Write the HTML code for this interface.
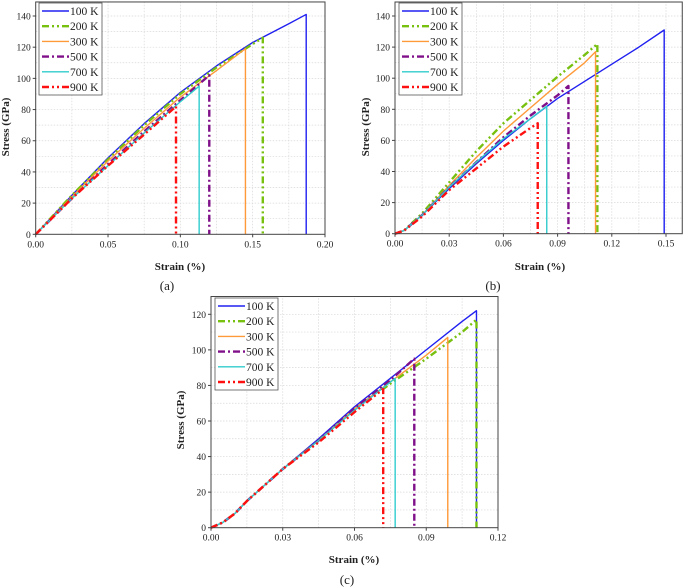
<!DOCTYPE html>
<html><head><meta charset="utf-8">
<style>
html,body{margin:0;padding:0;background:#fff;}
svg{display:block;font-family:"Liberation Serif",serif;}
</style></head>
<body>
<svg id="fig" width="685" height="588" viewBox="0 0 685 588"></svg>
<script>
const seriesNames=["100 K","200 K","300 K","500 K","700 K","900 K"];
// Panel (a)
const aStrain=[
 [0,0.025,0.05,0.075,0.1,0.125,0.15,0.175,0.187],
 [0,0.025,0.05,0.075,0.1,0.125,0.15,0.157],
 [0,0.025,0.05,0.075,0.1,0.125,0.145],
 [0,0.025,0.05,0.075,0.1,0.12],
 [0,0.025,0.05,0.075,0.1,0.113],
 [0,0.025,0.05,0.075,0.097]];
const aStress=[
 [0,25,49,71,91,108,123,135,141],
 [0,25,48,70,90,107,122,126],
 [0,24,47,68,88,105,119],
 [0,23,45,66,86,102],
 [0,23,44,65,85,95],
 [0,23,44,64,82]];
// Panel (b)
const bStrain=[
 [0,0.005,0.015,0.03,0.045,0.06,0.075,0.09,0.105,0.12,0.135,0.149],
 [0,0.005,0.015,0.03,0.045,0.06,0.075,0.09,0.105,0.112],
 [0,0.005,0.015,0.03,0.045,0.06,0.075,0.09,0.105,0.111],
 [0,0.005,0.015,0.03,0.045,0.06,0.075,0.09,0.096],
 [0,0.005,0.015,0.03,0.045,0.06,0.075,0.084],
 [0,0.005,0.015,0.03,0.045,0.06,0.075,0.079]];
const bStress=[
 [0,2,12,29,45,60,74,87,98,109,120,131],
 [0,2,13,33,53,71,86,101,115,122],
 [0,2,12,31,49,66,81,96,110,117],
 [0,2,12,30,46,62,76,89,95],
 [0,2,12,30,46,61,74,82],
 [0,2,11,28,42,56,68,71]];
// Panel (c)
const cStrain=[
 [0,0.005,0.01,0.015,0.03,0.045,0.06,0.075,0.09,0.105,0.111],
 [0,0.005,0.01,0.015,0.03,0.045,0.06,0.075,0.09,0.105,0.111],
 [0,0.005,0.01,0.015,0.03,0.045,0.06,0.075,0.09,0.099],
 [0,0.005,0.01,0.015,0.03,0.045,0.06,0.075,0.085],
 [0,0.005,0.01,0.015,0.03,0.045,0.06,0.077],
 [0,0.005,0.01,0.015,0.03,0.045,0.06,0.072]];
const cStress=[
 [0,3,8,15,33,50,68,84,100,116,122],
 [0,3,8,15,33,49,66,81,95,110,117],
 [0,3,8,15,33,49,67,82,97,107],
 [0,3,8,15,33,49,67,83,95],
 [0,3,8,15,33,49,66,84],
 [0,3,8,15,33,48,65,78]];
const aXTicks=["0.00","0.05","0.10","0.15","0.20"];
const bXTicks=["0.00","0.03","0.06","0.09","0.12","0.15"];
const cXTicks=["0.00","0.03","0.06","0.09","0.12"];
const aYTicks=[0,20,40,60,80,100,120,140];
const cYTicks=[0,20,40,60,80,100,120];

const colors=["#2020f0","#77c010","#ff9a3a","#80108a","#30cccc","#ff1010"];
const widths=[1.4,2.4,1.4,2.4,1.4,2.4];
const dashes=["","7,3,2,3,2,3","","7,3,2,3","","7,3,2,3,2,3"];
const NS="http://www.w3.org/2000/svg";
const svg=document.getElementById('fig');
function mk(tag,attrs,parent){const e=document.createElementNS(NS,tag);for(const k in attrs)e.setAttribute(k,attrs[k]);(parent||svg).appendChild(e);return e;}

function panel(cfg){
 const g=mk('g',{});
 
 
 const X=v=>cfg.x0+(v-cfg.xmin)/(cfg.xmax-cfg.xmin)*(cfg.x1-cfg.x0);
 const Y=v=>cfg.y0-(v/cfg.ymax)*(cfg.y0-cfg.y1);
 const xr=cfg.xr, yr=cfg.yr;
 const step=cfg.xstep/2;
 for(let v=step;X(v)<X(xr)-1;v+=step){const l=mk('line',{x1:X(v),x2:X(v),y1:cfg.y0,y2:Y(yr),stroke:'#d8d8d8','stroke-width':0.7,'stroke-dasharray':'1.5,1.5'},g);}
 for(let v=10;Y(v)>Y(yr)+1;v+=10){const l=mk('line',{x1:cfg.x0,x2:X(xr),y1:Y(v),y2:Y(v),stroke:'#d8d8d8','stroke-width':0.7,'stroke-dasharray':'1.5,1.5'},g);}
 cfg.sx.forEach((xs,i)=>{
  const ys=cfg.sy[i];
  let d='';
  xs.forEach((x,j)=>{d+=(j?' L':'M')+X(x).toFixed(2)+','+Y(ys[j]).toFixed(2);});
  d+=' L'+X(xs[xs.length-1]).toFixed(2)+','+Y(0);
  const p=mk('path',{d:d,fill:'none',stroke:colors[i],'stroke-width':widths[i],'stroke-dasharray':dashes[i],'stroke-linejoin':'round'},g);
  
  
 });
 const fr=mk('rect',{x:cfg.x0,y:Y(yr),width:X(xr)-cfg.x0,height:cfg.y0-Y(yr),fill:'none',stroke:'#444','stroke-width':1},g);
 
 cfg.xt.forEach(t=>{
  const v=parseFloat(t),px=X(v);
  mk('line',{x1:px,x2:px,y1:cfg.y0,y2:cfg.y0+3,stroke:'#444'},g);
  const tx=mk('text',{x:px,y:cfg.y0+13,'font-size':9.5,'text-anchor':'middle',fill:'#222'},g);
  tx.textContent=t;
 });
 cfg.yt.forEach(v=>{
  const py=Y(v);
  mk('line',{x1:cfg.x0-3,x2:cfg.x0,y1:py,y2:py,stroke:'#444'},g);
  const tx=mk('text',{x:cfg.x0-5,y:py+3.5,'font-size':9.5,'text-anchor':'end',fill:'#222'},g);
  tx.textContent=v;
 });
 const xt=mk('text',{x:cfg.xlx,y:cfg.xly,'font-size':11,'font-weight':'bold','text-anchor':'middle',fill:'#222'},g);
 xt.textContent='Strain (%)';
 const yt=mk('text',{x:0,y:0,'font-size':11,'font-weight':'bold','text-anchor':'middle',fill:'#222',transform:'translate('+cfg.ylx+','+cfg.yly+') rotate(-90)'},g);
 yt.textContent='Stress (GPa)';
 const cap=mk('text',{x:cfg.capx,y:cfg.capy,'font-size':13,'text-anchor':'middle',fill:'#222'},g);
 cap.textContent='('+cfg.id+')';
 const lg=mk('g',{},g);
 mk('rect',{x:cfg.lx,y:cfg.ly,width:63,height:92,fill:'#fff',stroke:'#555','stroke-width':0.8},lg);
 seriesNames.forEach((n,i)=>{
  const yy=cfg.ly+8+i*15.2;
  const e=mk('g',{},lg);
  mk('line',{x1:cfg.lx+3,x2:cfg.lx+30,y1:yy,y2:yy,stroke:colors[i],'stroke-width':widths[i],'stroke-dasharray':dashes[i]},e);
  const t=mk('text',{x:cfg.lx+31,y:yy+4,'font-size':11.5,fill:'#222'},e);t.textContent=n;
 });
}
panel({id:'a',x0:35.7,x1:325,xmin:0,xmax:0.2,xr:0.2,xstep:0.05,y0:234.3,y1:16,ymax:140,yr:149,sx:aStrain,sy:aStress,xt:aXTicks,yt:aYTicks,xlx:180,xly:270,ylx:9,yly:127,capx:167,capy:290,lx:39,ly:3});
panel({id:'b',x0:395,x1:666,xmin:0,xmax:0.15,xr:0.159,xstep:0.03,y0:233.7,y1:16,ymax:140,yr:149,sx:bStrain,sy:bStress,xt:bXTicks,yt:aYTicks,xlx:540,xly:270,ylx:369,yly:127,capx:493,capy:290,lx:399,ly:3});
panel({id:'c',x0:211,x1:498,xmin:0,xmax:0.12,xr:0.12,xstep:0.03,y0:527.7,y1:314.3,ymax:120,yr:130,sx:cStrain,sy:cStress,xt:cXTicks,yt:cYTicks,xlx:354,xly:563,ylx:184,yly:420,capx:347,capy:584,lx:215,ly:298});
</script>
</body></html>
